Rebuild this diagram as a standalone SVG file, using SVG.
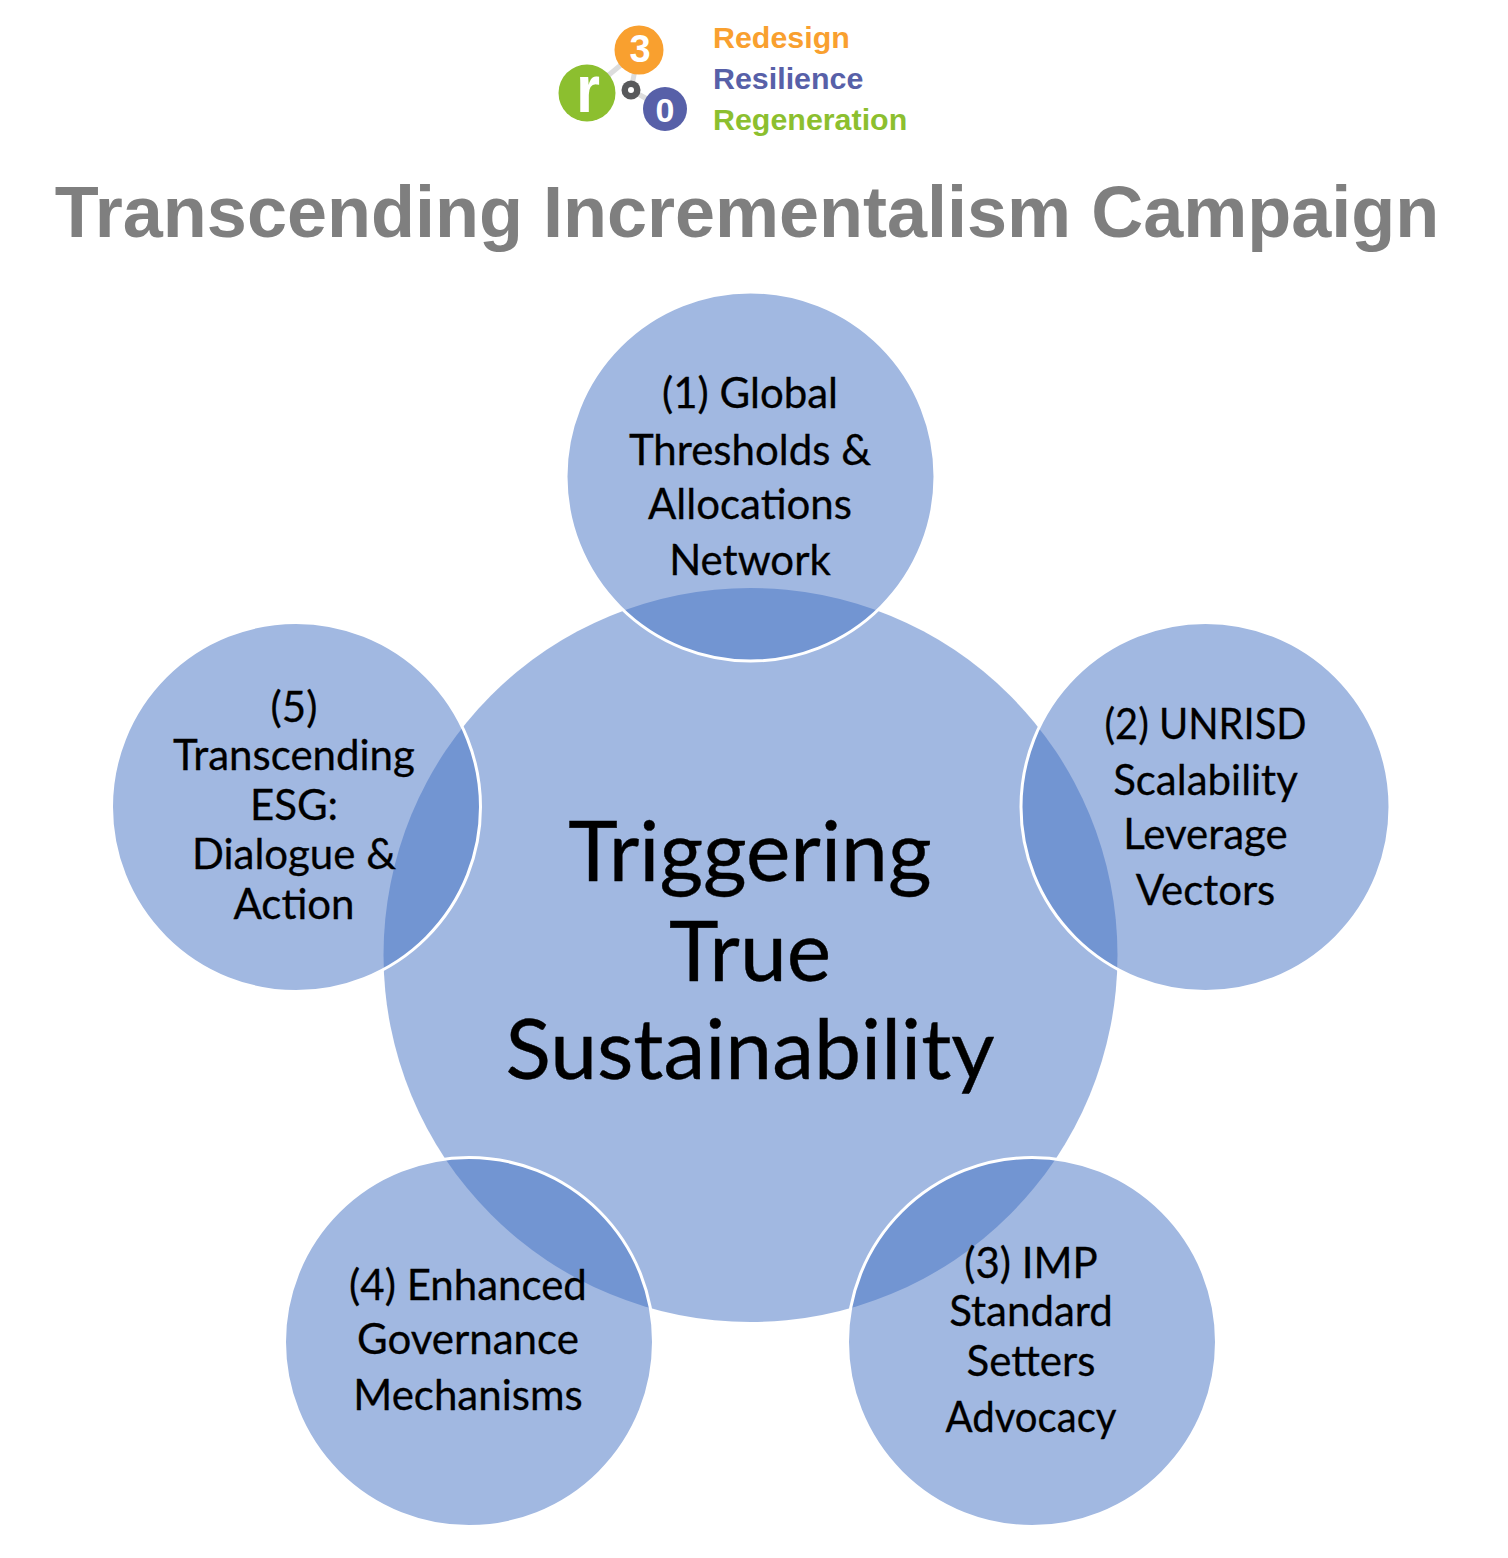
<svg xmlns="http://www.w3.org/2000/svg" width="1508" height="1558" viewBox="0 0 1508 1558">
<style>
text{font-family:"Lato","Noto Sans",sans-serif;fill:#000;text-anchor:middle}
.s{font-size:42px;stroke:#000;stroke-width:.3px}
.c{font-size:84px;stroke:#000;stroke-width:.4px}
.sat{fill:#4472C4;fill-opacity:.5;stroke:#fff;stroke-width:3px}
.l{font-family:"Liberation Sans",Arial,sans-serif;font-weight:700;font-size:30.400px;text-anchor:start}
.n{font-family:"Liberation Sans",Arial,sans-serif;font-weight:700;fill:#fff}
</style>
<rect width="1508" height="1558" fill="#fff"/>
<g id="logo">
<path d="M587 93L639 50M639 50L631 90M631 90L665 109" stroke="#DDDDDD" stroke-width="5" fill="none"/>
<circle cx="639" cy="50" r="24.500" fill="#F9A02F"/>
<circle cx="587" cy="93" r="28.500" fill="#8CBF2F"/>
<circle cx="665" cy="109" r="22" fill="#5760A8"/>
<circle cx="631" cy="90" r="9.500" fill="#58595B"/>
<circle cx="631" cy="90" r="3" fill="#fff"/>
<text class="n" x="640" y="62" font-size="38">3</text>
<text class="n" x="588" y="112" font-size="66" textLength="24" lengthAdjust="spacingAndGlyphs">r</text>
<text class="n" x="665" y="122" font-size="34">0</text>
<text class="l" x="713" y="48" style="fill:#F9A02F">Redesign</text>
<text class="l" x="713" y="89" style="fill:#5760A8">Resilience</text>
<text class="l" x="713" y="130" style="fill:#8CBF2F">Regeneration</text>
</g>
<text id="title" x="747" y="237" style="font-family:'Liberation Sans',Arial,sans-serif;font-weight:700;font-size:72px;fill:#7F7F7F">Transcending Incrementalism Campaign</text>
<g id="center">
<circle cx="750.500" cy="955" r="367" fill="#4472C4" fill-opacity=".5"/>
</g>
<g id="node1"><circle class="sat" cx="750.500" cy="476.500" r="184.500"/></g>
<g id="node2"><circle class="sat" cx="1205.500" cy="807" r="184.500"/></g>
<g id="node3"><circle class="sat" cx="1032" cy="1342" r="184.500"/></g>
<g id="node4"><circle class="sat" cx="469" cy="1342" r="184.500"/></g>
<g id="node5"><circle class="sat" cx="296" cy="807" r="184.500"/></g>
<g id="center-label">
<text class="c" x="750" y="881">Triggering</text>
<text class="c" x="750" y="981">True</text>
<text class="c" x="750" y="1079">Sustainability</text>
</g>
<g id="node1-label">
<text class="s" x="750" y="408">(1) Global</text>
<text class="s" x="750" y="465">Thresholds &amp;</text>
<text class="s" x="750" y="519">Allocations</text>
<text class="s" x="750" y="575">Network</text>
</g>
<g id="node2-label">
<text class="s" x="1205.500" y="739" textLength="202" lengthAdjust="spacingAndGlyphs">(2) UNRISD</text>
<text class="s" x="1205.500" y="795">Scalability</text>
<text class="s" x="1205.500" y="849">Leverage</text>
<text class="s" x="1205.500" y="905">Vectors</text>
</g>
<g id="node3-label">
<text class="s" x="1031" y="1278">(3) IMP</text>
<text class="s" x="1031" y="1326">Standard</text>
<text class="s" x="1031" y="1376">Setters</text>
<text class="s" x="1031" y="1432" textLength="171" lengthAdjust="spacingAndGlyphs">Advocacy</text>
</g>
<g id="node4-label">
<text class="s" x="468" y="1300">(4) Enhanced</text>
<text class="s" x="468" y="1354">Governance</text>
<text class="s" x="468" y="1410">Mechanisms</text>
</g>
<g id="node5-label">
<text class="s" x="294" y="722">(5)</text>
<text class="s" x="294" y="770">Transcending</text>
<text class="s" x="294" y="820">ESG:</text>
<text class="s" x="294" y="869">Dialogue &amp;</text>
<text class="s" x="294" y="919">Action</text>
</g>
</svg>
